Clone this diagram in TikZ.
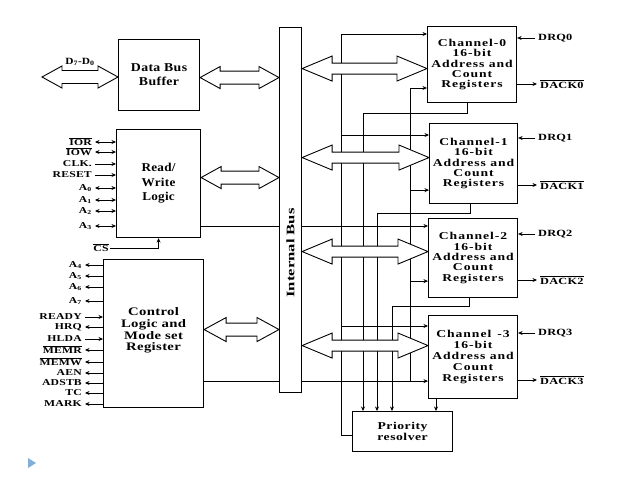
\documentclass[tikz,border=0pt]{standalone}
\usepackage{fontspec}
\usepackage{graphicx}
\setmainfont{Liberation Serif}
\usetikzlibrary{calc,arrows.meta}
\newcommand\ovl[1]{\ensuremath{\overline{\mbox{#1}}}}
\newcommand\bxf[4]{\fontsize{#1}{#2}\selectfont\bfseries\addfontfeature{LetterSpace=#3,FakeStretch=#4}}
\newcommand\hollowarrow[5]{%
  \draw[hol] let \p1=#1, \p2=#2 in
    (\x1,\y1) -- (\x1+#3pt,\y1+#4pt) -- (\x1+#3pt,\y1+#5pt) -- (\x2-#3pt,\y1+#5pt)
    -- (\x2-#3pt,\y1+#4pt) -- (\x2,\y1) -- (\x2-#3pt,\y1-#4pt) -- (\x2-#3pt,\y1-#5pt)
    -- (\x1+#3pt,\y1-#5pt) -- (\x1+#3pt,\y1-#4pt) -- cycle;}
\definecolor{bullet}{RGB}{130,175,215}
\begin{document}
\begin{tikzpicture}[x=1pt,y=-1pt,
  blk/.style={draw, line width=1.1pt, rectangle, anchor=north west, inner sep=0pt, align=center},
  wire/.style={line width=0.7pt},
  arr/.style={wire, -{Stealth[length=4.5pt,width=4pt]}},
  sin/.style={wire, -{Stealth[length=4.5pt,width=4pt]}},
  sout/.style={wire, {Stealth[length=4.5pt,width=4pt]}-},
  sboth/.style={wire, {Stealth[length=4.5pt,width=4pt]}-{Stealth[length=4.5pt,width=4pt]}},
  hol/.style={line width=0.9pt, fill=white, line join=miter},
  sig/.style={inner sep=0pt, font=\bxf{9}{10}{2}{1.3}},
  rsig/.style={inner sep=0pt, anchor=west, font=\bxf{9.5}{10}{2}{1.3}}]
\useasboundingbox (0,0) rectangle (638,493);

% ---------- blocks ----------
\node[blk, minimum width=81pt, minimum height=71pt, font=\bxf{12}{14}{3}{1.15}] (dbb) at (118,39) {Data Bus\\Buffer};
\node[blk, minimum width=84pt, minimum height=108pt, font=\bxf{12}{14.5}{2}{1.1}] (rwl) at (116,129) {Read/\\Write\\Logic};
\node[blk, minimum width=100pt, minimum height=148pt, font=\bxf{11.5}{11.8}{3}{1.28}] (ctl) at (103,259) {Control\\Logic and\\Mode set\\Register\\[-3pt]};
\node[blk, minimum width=89pt, minimum height=76pt, font=\bxf{10.5}{10.3}{9}{1.3}] (ch0) at (427,26) {Channel-0\\16-bit\\Address and\\Count\\Registers};
\node[blk, minimum width=88pt, minimum height=80pt, font=\bxf{10.5}{10.3}{9}{1.3}] (ch1) at (429,123) {Channel-1\\16-bit\\Address and\\Count\\Registers};
\node[blk, minimum width=89pt, minimum height=79pt, font=\bxf{10.5}{10.3}{9}{1.3}] (ch2) at (428,218) {Channel-2\\16-bit\\Address and\\Count\\Registers};
\node[blk, minimum width=89pt, minimum height=83pt, font=\bxf{10.5}{11}{9}{1.3}] (ch3) at (428,315) {Channel\, -3\\16-bit\\Address and\\Count\\Registers};
\node[blk, minimum width=100pt, minimum height=40pt, font=\bxf{10.5}{10.5}{5}{1.3}] (pr) at (352,411) {Priority\\resolver};

% ---------- coordinates ----------
\coordinate (pvtop) at (341,34);
\coordinate (qv) at (410,88);
\coordinate (c0a) at (ch0.west |- pvtop);
\coordinate (c1a) at ($(ch1.north west)+(0,12)$);
\coordinate (c2a) at ($(ch2.north west)+(0,8)$);
\coordinate (c3a) at ($(ch3.north west)+(0,11)$);
\coordinate (c0b) at (ch0.west |- qv);
\coordinate (c1b) at ($(ch1.south west)+(0,-14)$);
\coordinate (c2b) at ($(ch2.south west)+(0,-17)$);
\coordinate (c3b) at ($(ch3.south west)+(0,-18)$);

% ---------- wires behind the bus ----------
\draw[arr] (rwl.east |- c2a) -- (c2a);
\draw[arr] (ctl.east |- c3b) -- (c3b);

% ---------- internal bus ----------
\node[blk, fill=white, minimum width=22pt, minimum height=365pt] (bus) at (279,27) {};
\node[rotate=90, inner sep=0pt, font=\fontsize{11.5}{11.5}\selectfont\bfseries] (buslbl) at (290.5,253) {\scalebox{1.45}[1]{Internal Bus}};

% priority resolver feedback to channels
\draw[arr] ($(pr.west)+(0,4)$) -| (pvtop) -- (c0a);
\draw[arr] (pvtop |- c1a) -- (c1a);
\draw[arr] (pvtop |- c3a) -- (c3a);
% control vertical
\draw[arr] (qv) -- (c0b);
\draw[wire] (qv) -- (qv |- c3b);
\draw[arr] (qv |- c1b) -- (c1b);
\draw[arr] (qv |- c2b) -- (c2b);

% channel outputs to priority resolver
\draw[arr] ($(ch0.south)+(-4.5,0)$) -- ++(0,10) -| ($(pr.north west)+(11,0)$);
\draw[arr] ($(ch1.south)+(-3,0)$) -- ++(0,9) -| ($(pr.north west)+(25,0)$);
\draw[arr] ($(ch2.south)+(-3.5,0)$) -- ++(0,8) -| ($(pr.north west)+(40,0)$);
\coordinate (c3o) at ($(ch3.south west)+(8,0)$);
\draw[arr] (c3o) -- (c3o |- pr.north);

% ---------- hollow bus arrows ----------
\node[inner sep=0pt, font=\bxf{9.5}{10}{2}{1.2}] (dlbl) at (80,62) {D\textsubscript{7}-D\textsubscript{0}};
\coordinate (dext) at (42,77);
\hollowarrow{(dext)}{(dext -| dbb.west)}{20}{11}{6.5}
\hollowarrow{($(dbb.east)+(0,2.5)$)}{($(dbb.east -| bus.west)+(0,2.5)$)}{20}{11}{6.5}
\hollowarrow{($(rwl.east)+(0,-6)$)}{($(rwl.east -| bus.west)+(0,-6)$)}{20}{11}{6.5}
\hollowarrow{($(ctl.east)+(0,-4)$)}{($(ctl.east -| bus.west)+(0,-4)$)}{22}{12}{6.5}
\hollowarrow{($(bus.east |- ch0.west)+(0,4)$)}{($(ch0.west)+(0,4)$)}{30}{12.5}{5.5}
\hollowarrow{($(bus.east |- ch1.west)+(0,-6)$)}{($(ch1.west)+(0,-6)$)}{30}{12.5}{5.5}
\hollowarrow{($(bus.east |- ch2.west)+(0,-6.5)$)}{($(ch2.west)+(0,-6.5)$)}{30}{12.5}{5.5}
\hollowarrow{($(bus.east |- ch3.west)+(0,-11.5)$)}{($(ch3.west)+(0,-11.5)$)}{30}{12.5}{5.5}

% ---------- read/write signals ----------
\foreach \t/\y/\s [count=\i] in {{\ovl{IOR}}/142/sboth, {\ovl{IOW}}/152/sboth, CLK./164/sin, RESET/175/sin,
  A\textsubscript{0}/188/sboth, A\textsubscript{1}/200/sboth, A\textsubscript{2}/211/sboth, A\textsubscript{3}/226/sboth}{
  \node[sig, anchor=east] (r\i) at (92,\y) {\t};
  \draw[\s] ([xshift=3pt]r\i.east) -- (r\i.east -| rwl.west);
}
\node[sig] (cs) at (101,248) {\ovl{CS}};
\draw[arr] ([xshift=1pt]cs.east) -| (rwl.south);

% ---------- control signals ----------
\foreach \t/\y/\s [count=\i] in {A\textsubscript{4}/265/sout, A\textsubscript{5}/276/sout, A\textsubscript{6}/287/sout, A\textsubscript{7}/301/sout,
  READY/317/sin, HRQ/327/sout, HLDA/339/sin, {\ovl{MEMR}}/350/sout, {\ovl{MEMW}}/362/sout, AEN/373/sout,
  ADSTB/383/sout, TC/393/sout, MARK/404/sout}{
  \node[sig, anchor=east] (k\i) at (82,\y) {\t};
  \draw[\s] ([xshift=3pt]k\i.east) -- (k\i.east -| ctl.west);
}

% ---------- channel side signals ----------
\foreach \c/\ya/\yb in {0/38/84, 1/138/185, 2/234/280, 3/333/380}{
  \node[rsig] (drq\c) at (538,\ya) {DRQ\c};
  \draw[arr] ([xshift=-3pt]drq\c.west) -- (drq\c.west -| ch\c.east);
  \node[rsig] (dack\c) at (540,\yb) {\ovl{DACK\c}};
  \draw[arr] (dack\c.west -| ch\c.east) -- ([xshift=-3pt]dack\c.west);
}

% slide bullet
\fill[bullet] (28,458) -- (36,463) -- (28,468) -- cycle;
\end{tikzpicture}
\end{document}
